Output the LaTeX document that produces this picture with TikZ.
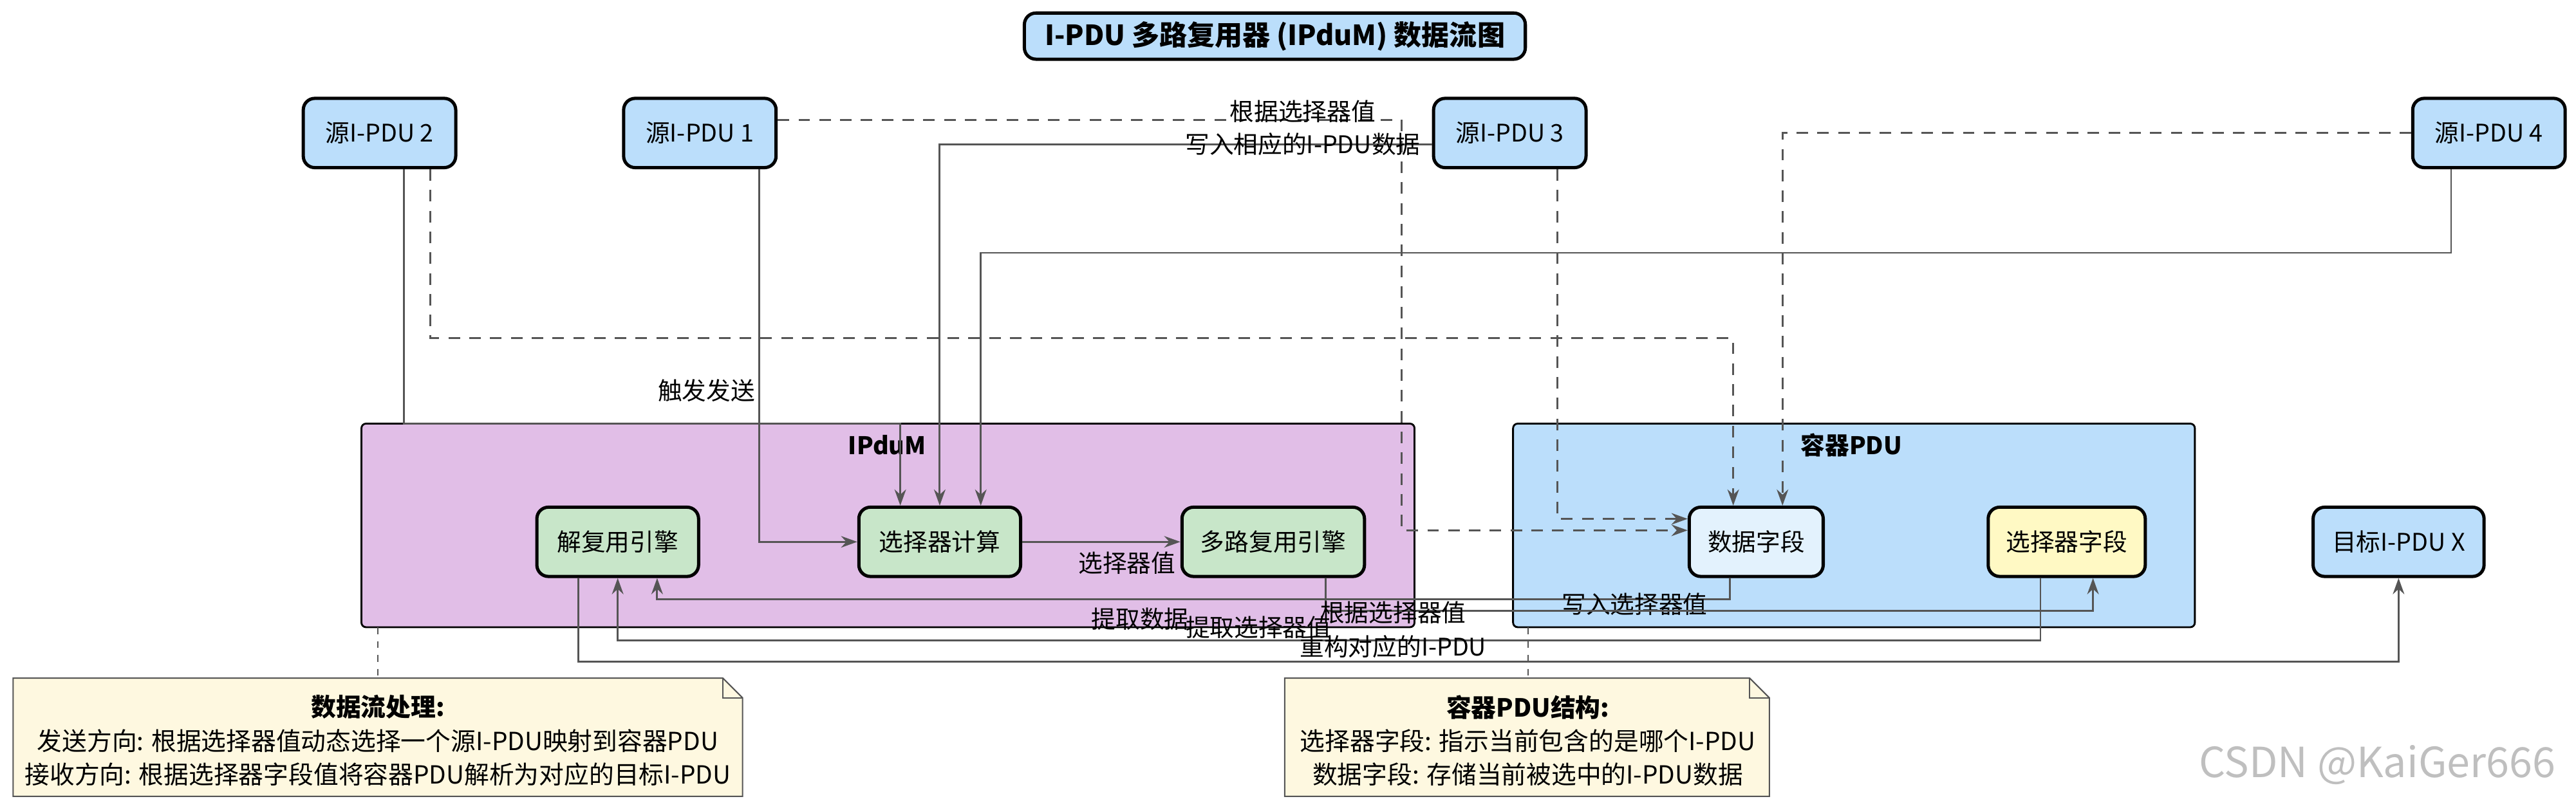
\documentclass[tikz,border=0pt]{standalone}
\usepackage{fontspec}
\setmainfont{Noto Sans CJK SC}
\usetikzlibrary{arrows.meta,shapes.misc}
\definecolor{srcb}{HTML}{BBDEFB}
\definecolor{grn}{HTML}{C8E6C9}
\definecolor{ipd}{HTML}{E1BEE7}
\definecolor{wht}{HTML}{E3F2FD}
\definecolor{ylw}{HTML}{FFF9C4}
\definecolor{note}{HTML}{FEF8E0}
\definecolor{ln}{HTML}{555555}
\begin{document}
\begin{tikzpicture}[x=0.025cm,y=-0.025cm,font=\fontsize{10.5}{13}\selectfont,
 box/.style={draw=black,line width=1.4pt,rounded corners=5pt,minimum height=30pt,inner sep=3pt},
 clus/.style={draw=black,line width=0.8pt,rounded corners=2pt},
 ed/.style={draw=ln,line width=0.8pt,-{Stealth[length=7pt,width=5pt]}},
 dd/.style={ed,dashed,dash pattern=on 5pt off 4pt},
 lab/.style={font=\fontsize{10.5}{13}\selectfont,inner sep=1pt},
 nt/.style={draw=ln,fill=note,line width=0.6pt}]
\useasboundingbox (0,0) rectangle (1568,492);
% title
\node[box,fill=srcb,font=\fontsize{12}{14}\bfseries\selectfont,minimum height=20pt,minimum width=305*0.711pt] (title) at (776,22) {I-PDU 多路复用器 (IPduM) 数据流图};
% clusters
\draw[clus,fill=ipd] (220,258) rectangle (861,382);
\node[font=\bfseries\fontsize{10.5}{13}\selectfont] (lip) at (540,271) {IPduM};
\draw[clus,fill=srcb] (921,258) rectangle (1336,382);
\node[font=\bfseries\fontsize{10.5}{13}\selectfont] (lcp) at (1127,271) {容器PDU};
% sources
\node[box,fill=srcb,minimum width=66pt] (s2) at (231,81) {源I-PDU 2};
\node[box,fill=srcb,minimum width=66pt] (s1) at (426,81) {源I-PDU 1};
\node[box,fill=srcb,minimum width=66pt] (s3) at (919,81) {源I-PDU 3};
\node[box,fill=srcb,minimum width=66pt] (s4) at (1515,81) {源I-PDU 4};
% inner nodes
\node[box,fill=grn,minimum width=70pt] (dem) at (376,330) {解复用引擎};
\node[box,fill=grn,minimum width=70pt] (sel) at (572,330) {选择器计算};
\node[box,fill=grn,minimum width=79pt] (mux) at (775,330) {多路复用引擎};
\node[box,fill=wht,minimum width=58pt] (df) at (1069,330) {数据字段};
\node[box,fill=ylw,minimum width=68pt] (sf) at (1258,330) {选择器字段};
\node[box,fill=srcb,minimum width=74pt] (tgt) at (1460,330) {目标I-PDU X};
% edges
\draw[ed] (246,0 |- s2.south) -- (246,258) -- (548,258) -- (548,0 |- sel.north);
\draw[ed] (462,0 |- s1.south) -- (462,330) -- (sel.west);
\node[lab] (ltr) at (430,238) {触发发送};
\draw[ed] (s3.west |- 0,88) -- (572,88) -- (572,0 |- sel.north);
\draw[ed] (1492,0 |- s4.south) -- (1492,154) -- (597,154) -- (597,0 |- sel.north);
\draw[dd] (s1.east |- 0,73) -- (853,73) -- (853,323) -- (df.west |- 0,323);
\node[lab] (lw1) at (793,68) {根据选择器值};
\node[lab] (lw2) at (793,88) {写入相应的I-PDU数据};
\draw[dd] (262,0 |- s2.south) -- (262,206) -- (1055,206) -- (1055,0 |- df.north);
\draw[dd] (s4.west) -- (1085,81) -- (1085,0 |- df.north);
\draw[dd] (948,0 |- s3.south) -- (948,316) -- (df.west |- 0,316);
\draw[ed] (sel) -- (mux);
\node[lab] (lsv) at (686,343) {选择器值};
\draw[ed] (1053,0 |- df.south) -- (1053,365) -- (400,365) -- (400,0 |- dem.south);
\node[lab] (lws) at (995,368) {写入选择器值};
\draw[ed] (807,0 |- mux.south) -- (807,372) -- (1274,372) -- (1274,0 |- sf.south);
\node[lab] (lgs) at (848,373) {根据选择器值};
\draw[ed] (1242,0 |- sf.south) -- (1242,390) -- (376,390) -- (376,0 |- dem.south);
\node[lab] (ltd) at (694,377) {提取数据};
\node[lab] (lts) at (766,382) {提取选择器值};
\draw[ed] (352,0 |- dem.south) -- (352,403) -- (1460,403) -- (tgt.south);
\node[lab] (lrc) at (848,394) {重构对应的I-PDU};
% notes
\draw[ln,dashed,line width=0.6pt] (230,382) -- (230,413);
\draw[ln,dashed,line width=0.6pt] (930,382) -- (930,413);
\draw[nt] (8,413) -- (440,413) -- (452,425) -- (452,485) -- (8,485) -- cycle;
\draw[ln,line width=0.6pt] (440,413) -- (440,425) -- (452,425);
\node[align=center,font=\fontsize{10.8}{14.5}\selectfont] (n1) at (230,451) {\textbf{数据流处理:}\\发送方向: 根据选择器值动态选择一个源I-PDU映射到容器PDU\\接收方向: 根据选择器字段值将容器PDU解析为对应的目标I-PDU};
\draw[nt] (782,413) -- (1065,413) -- (1077,425) -- (1077,485) -- (782,485) -- cycle;
\draw[ln,line width=0.6pt] (1065,413) -- (1065,425) -- (1077,425);
\node[align=center,font=\fontsize{10.8}{14.5}\selectfont] (n2) at (930,451) {\textbf{容器PDU结构:}\\选择器字段: 指示当前包含的是哪个I-PDU\\数据字段: 存储当前被选中的I-PDU数据};
\node[text=black!25,font=\fontsize{18}{20}\selectfont] (wm) at (1447,466) {CSDN @KaiGer666};
\end{tikzpicture}
\end{document}
